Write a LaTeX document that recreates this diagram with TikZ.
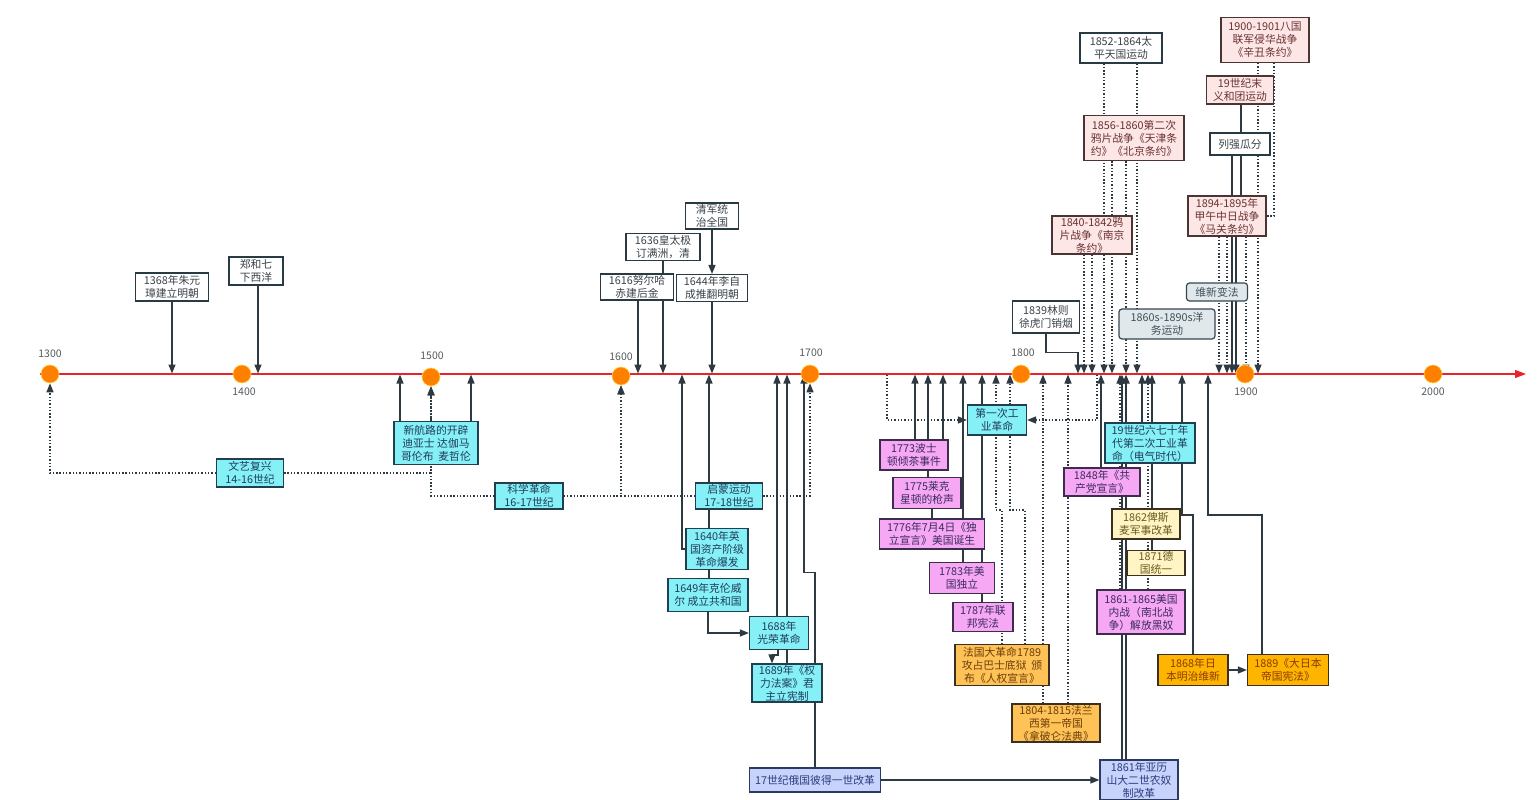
\documentclass[tikz,border=0pt]{standalone}
\usepackage{fontspec}
\newfontfamily\cjk{Noto Sans CJK SC}
\usetikzlibrary{arrows.meta,calc}
\pgfdeclarelayer{bg}
\pgfsetlayers{bg,main}
\definecolor{wbd}{HTML}{2A3A44}\definecolor{wtx}{HTML}{3A4248}
\definecolor{cyanf}{HTML}{86F0F7}\definecolor{cyanb}{HTML}{20404F}\definecolor{cyant}{HTML}{1E3D5C}
\definecolor{pinkf}{HTML}{FDE6E6}\definecolor{pinkb}{HTML}{4A3434}\definecolor{pinkt}{HTML}{6A3232}
\definecolor{magf}{HTML}{F7A8F5}\definecolor{magb}{HTML}{3D2D4D}\definecolor{magt}{HTML}{3B2A5C}
\definecolor{orf}{HTML}{FFC257}\definecolor{orb}{HTML}{3B3020}\definecolor{ort}{HTML}{6B3D0A}
\definecolor{ambf}{HTML}{FFB400}\definecolor{ambt}{HTML}{8A3C00}
\definecolor{yelf}{HTML}{FFF5C4}\definecolor{yelt}{HTML}{6B5A1E}
\definecolor{lavf}{HTML}{C8D3FB}\definecolor{lavb}{HTML}{2B3A63}\definecolor{lavt}{HTML}{2B3D80}
\definecolor{gryf}{HTML}{E1E8EC}\definecolor{gryb}{HTML}{36464F}\definecolor{gryt}{HTML}{3F4F58}
\definecolor{lin}{HTML}{2D3A42}
\definecolor{axred}{HTML}{E5252A}
\definecolor{dotor}{HTML}{FF7F00}\definecolor{dotbd}{HTML}{FFD24D}
\definecolor{yrtx}{HTML}{555B60}
\tikzset{
  base/.style={draw, line width=1.2pt, inner sep=1pt, align=center,
    font=\cjk\fontsize{10.8}{13}\selectfont},
  sz/.style 2 args={minimum width=#1, minimum height=#2},
  wbox/.style={base, fill=white, draw=wbd, text=wtx},
  cbox/.style={base, fill=cyanf, draw=cyanb, text=cyant},
  pbox/.style={base, fill=pinkf, draw=pinkb, text=pinkt},
  mbox/.style={base, fill=magf, draw=magb, text=magt},
  obox/.style={base, fill=orf, draw=orb, text=ort},
  abox/.style={base, fill=ambf, draw=orb, text=ambt},
  ybox/.style={base, fill=yelf, draw=orb, text=yelt},
  lbox/.style={base, fill=lavf, draw=lavb, text=lavt},
  gbox/.style={base, fill=gryf, draw=gryb, text=gryt, rounded corners=3pt},
  yeardot/.style={circle, fill=dotor, draw=dotbd, line width=0.6pt, minimum size=18pt, inner sep=0pt},
  yearlbl/.style={font=\cjk\fontsize{10.5}{12}\selectfont, text=yrtx, inner sep=0pt},
  conn/.style={draw=lin, line width=1.3pt},
  arr/.style={conn, -{Triangle[length=9pt,width=7pt]}},
  dotc/.style={conn, dash pattern=on 1.4pt off 1.9pt},
  dotarr/.style={dotc, -{Triangle[length=9pt,width=7pt]}},
  thickarr/.style={arr, line width=1.9pt},
}
\begin{document}
\begin{tikzpicture}[x=1pt,y=-1pt]
\useasboundingbox (0,0) rectangle (1540,800);

% axis coordinates
\coordinate (axL) at (40,374);
\coordinate (axR) at (1526,374);
\foreach \x in {172,258,638,663,712,1078,1084,1092,1104,1112,1126,1137,1219,1227,1232,1236,1246,1258}
  \coordinate (t\x) at (\x,373.5);
\foreach \x in {400,471,682,709,777,787,804,887,915,928,943,963,982,996,1010,1043,1068,1097,1101,1120,1122,1126,1142,1148,1152,1182,1208}
  \coordinate (u\x) at (\x,374.5);

% year dots and labels
\node[yeardot] (c1300) at (50,374) {};
\node[yeardot] (c1400) at (242,374) {};
\node[yeardot] (c1500) at (431,377) {};
\node[yeardot] (c1600) at (621,376) {};
\node[yeardot] (c1700) at (810,374) {};
\node[yeardot] (c1800) at (1021,374) {};
\node[yeardot] (c1900) at (1245,374) {};
\node[yeardot] (c2000) at (1433,374) {};
\node[yearlbl] (l1300) at (50,354) {1300};
\node[yearlbl] (l1400) at (244,392) {1400};
\node[yearlbl] (l1500) at (432,356) {1500};
\node[yearlbl] (l1600) at (621,357) {1600};
\node[yearlbl] (l1700) at (811,353) {1700};
\node[yearlbl] (l1800) at (1023,353) {1800};
\node[yearlbl] (l1900) at (1246,392) {1900};
\node[yearlbl] (l2000) at (1433,392) {2000};

% top boxes
\node[wbox, sz={73}{28}] (b1368) at (172,287) {1368年朱元\\璋建立明朝};
\node[wbox, sz={54}{28}] (bzh) at (256,271) {郑和七\\下西洋};
\node[wbox, sz={73}{26}] (b1616) at (637,287) {1616努尔哈\\赤建后金};
\node[wbox, sz={74}{27}] (b1636) at (663,247) {1636皇太极\\订满洲，清};
\node[wbox, sz={53}{26}] (bqj) at (712,216) {清军统\\治全国};
\node[wbox, sz={71}{27}] (b1644) at (712,288) {1644年李自\\成推翻明朝};
\node[wbox, sz={67}{32}] (b1839) at (1046,317) {1839林则\\徐虎门销烟};
\node[wbox, sz={82}{30}] (b1852) at (1121,48) {1852-1864太\\平天国运动};
\node[pbox, sz={100}{45}] (b1856) at (1134,138) {1856-1860第二次\\鸦片战争《天津条\\约》《北京条约》};
\node[pbox, sz={80}{38}] (b1840) at (1092,235) {1840-1842鸦\\片战争《南京\\条约》};
\node[gbox, sz={96}{30}] (byw) at (1167,324) {1860s-1890s洋\\务运动};
\node[gbox, sz={61}{18}] (bwx) at (1217,292) {维新变法};
\node[pbox, sz={78}{40}] (b1894) at (1227,216) {1894-1895年\\甲午中日战争\\《马关条约》};
\node[pbox, sz={88}{45}] (b1900) at (1265,40) {1900-1901八国\\联军侵华战争\\《辛丑条约》};
\node[pbox, sz={67}{28}] (byht) at (1240,90) {19世纪末\\义和团运动};
\node[wbox, sz={60}{22}] (blq) at (1240,144) {列强瓜分};

% bottom boxes
\node[cbox, sz={84}{43}] (bxh) at (436,443) {新航路的开辟\\迪亚士 达伽马\\哥伦布\ \ 麦哲伦};
\node[cbox, sz={67}{28}] (bwy) at (250,473) {文艺复兴\\14-16世纪};
\node[cbox, sz={68}{26}] (bkx) at (529,496) {科学革命\\16-17世纪};
\node[cbox, sz={67}{26}] (bqm) at (729,496) {启蒙运动\\17-18世纪};
\node[cbox, sz={62}{41}] (b1640) at (717,549) {1640年英\\国资产阶级\\革命爆发};
\node[cbox, sz={80}{33}] (b1649) at (708,595) {1649年克伦威\\尔 成立共和国};
\node[cbox, sz={59}{33}] (b1688) at (779,633) {1688年\\光荣革命};
\node[cbox, sz={70}{36}] (b1689) at (787,683) {1689年《权\\力法案》君\\主立宪制};
\node[lbox, sz={131}{24}] (bey) at (815,780) {17世纪俄国彼得一世改革};
\node[lbox, sz={78}{40}] (bal) at (1139,780) {1861年亚历\\山大二世农奴\\制改革};
\node[cbox, sz={59}{30}] (bgy) at (997,420) {第一次工\\业革命};
\node[mbox, sz={68}{30}] (b1773) at (914,455) {1773波士\\顿倾茶事件};
\node[mbox, sz={68}{31}] (b1775) at (927,493) {1775莱克\\星顿的枪声};
\node[mbox, sz={105}{30}] (b1776) at (932,534) {1776年7月4日《独\\立宣言》美国诞生};
\node[mbox, sz={65}{31}] (b1783) at (962,578) {1783年美\\国独立};
\node[mbox, sz={60}{29}] (b1787) at (983,617) {1787年联\\邦宪法};
\node[obox, sz={94}{41}] (bfr) at (1002,665) {法国大革命1789\\攻占巴士底狱\ \ 颁\\布《人权宣言》};
\node[obox, sz={88}{35}] (bnp) at (1056,723) {1804-1815法兰\\西第一帝国\\《拿破仑法典》};
\node[mbox, sz={76}{28}] (b1848) at (1102,482) {1848年《共\\产党宣言》};
\node[mbox, sz={88}{44}] (b1865) at (1141,612) {1861-1865美国\\内战（南北战\\争）解放黑奴};
\node[cbox, sz={90}{40}] (b2ir) at (1150,443) {19世纪六七十年\\代第二次工业革\\命（电气时代）};
\node[ybox, sz={68}{30}] (b1862) at (1146,524) {1862俾斯\\麦军事改革};
\node[ybox, sz={58}{25}] (b1871) at (1156,563) {1871德\\国统一};
\node[abox, sz={70}{31}] (b1868) at (1193,670) {1868年日\\本明治维新};
\node[abox, sz={81}{31}] (b1889) at (1288,670) {1889《大日本\\帝国宪法》};

\begin{pgfonlayer}{bg}
\fill[white] (0,0) rectangle (1540,800);
\draw[draw=axred, line width=1.1pt, -{Triangle[length=11pt,width=8pt]}] (axL) -- (axR);

% top connectors
\draw[arr] (b1368.south) -- (t172);
\draw[arr] (bzh.south -| t258) -- (t258);
\draw[arr] (b1616.south -| t638) -- (t638);
\draw[arr] (b1636.south) -- (t663);
\draw[arr] (bqj.south) -- (b1644.north);
\draw[arr] (b1644.south) -- (t712);
\draw[arr] (b1839.south) -- ++(0,19) -| (t1078);
\draw[dotarr] (b1840.south -| t1084) -- (t1084);
\draw[dotarr] (b1840.south -| t1092) -- (t1092);
\draw[dotarr] (b1852.south -| t1104) -- (t1104);
\draw[dotarr] (b1852.south -| t1137) -- (t1137);
\draw[dotarr] (b1856.south -| t1112) -- (t1112);
\draw[dotarr] (b1856.south -| t1126) -- (t1126);
\draw[conn] ($(byht.south)+(1,0)$) -- ($(b1894.north)+(14,0)$);
\draw[arr] (blq.south -| t1232) -- (t1232);
\draw[arr] (b1894.south -| t1236) -- (t1236);
\draw[dotarr] (b1894.south -| t1219) -- (t1219);
\draw[dotarr] (b1894.south -| t1227) -- (t1227);
\draw[dotarr] (b1894.south -| t1246) -- (t1246);
\draw[dotarr] (b1900.south -| t1258) -- (t1258);
\draw[dotc] ($(b1900.south)+(9,0)$) |- (b1894.east);

% bottom connectors
\draw[arr] (bxh.north -| u400) -- (u400);
\draw[arr] (bxh.north -| u471) -- (u471);
\draw[dotarr] (bwy.west) -| (c1300.south);
\draw[dotarr] (bwy.east) -| (c1500.south);
\draw[dotarr] (bkx.west) -| (c1500.south);
\draw[dotarr] (bkx.east) -| (c1600.south);
\draw[dotarr] (bqm.west) -| (c1600.south);
\draw[dotarr] (bqm.east) -| (c1700.south);
\draw[arr] (b1640.west) -| (u682);
\draw[arr] (b1649.north -| u709) -- (u709);
\draw[arr] (b1649.south) |- (b1688.west);
\draw[arr] (b1688.north -| u777) -- (u777);
\draw[arr] ($(b1688.south)+(-1,0)$) -- ++(0,5) -| ($(b1689.north)+(-15,0)$);
\draw[arr] (b1689.north -| u787) -- (u787);
\draw[arr] (bey.north) -- ++(0,-195) -| (u804);
\draw[arr] (bey.east) -- (bal.west);
\draw[thickarr] (bal.north -| u1122) -- (u1122);
\draw[thickarr] (bal.north -| u1126) -- (u1126);
\draw[dotarr] (u887) |- (bgy.west);
\draw[dotarr] (u1097) |- (bgy.east);
\draw[arr] (b1773.north -| u915) -- (u915);
\draw[arr] (b1773.north -| u943) -- (u943);
\draw[arr] (b1775.north -| u928) -- (u928);
\draw[conn] (b1776.north) -- (b1775.south -| b1776.north);
\draw[arr] (b1783.north -| u963) -- (u963);
\draw[arr] (b1787.north -| u982) -- (u982);
\draw[dotarr] (bfr.north) -- ++(0,-134) -| (u996);
\draw[dotarr] ($(bfr.north)+(23,0)$) -- ++(0,-134) -| (u1010);
\draw[dotarr] (bnp.north -| u1043) -- (u1043);
\draw[dotarr] (bnp.north -| u1068) -- (u1068);
\draw[arr] (b1848.north -| u1101) -- (u1101);
\draw[dotarr] (b1865.north -| u1120) -- (u1120);
\draw[dotarr] (b1865.north -| u1148) -- (u1148);
\draw[arr] (b2ir.north -| u1142) -- (u1142);
\draw[arr] (b1871.north -| u1152) -- (u1152);
\draw[arr] (b1868.north) -- ++(0,-139) -| (u1182);
\draw[arr] ($(b1889.north)+(-26,0)$) -- ++(0,-139) -| (u1208);
\draw[arr] (b1868.east) -- (b1889.west);
\end{pgfonlayer}
\end{tikzpicture}
\end{document}
